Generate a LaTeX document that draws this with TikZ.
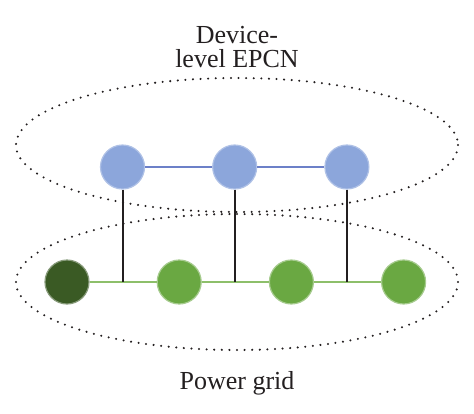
\documentclass[tikz,border=0pt]{standalone}
\usepackage{fontspec}
\setmainfont{Liberation Serif}
\usetikzlibrary{positioning}

\definecolor{devblue}{RGB}{140,166,219}
\definecolor{devline}{RGB}{108,128,200}
\definecolor{gridgreen}{RGB}{106,168,66}
\definecolor{griddark}{RGB}{58,90,36}
\definecolor{gridline}{RGB}{141,191,106}
\definecolor{txt}{RGB}{35,31,32}

\tikzset{
  bus/.style={circle, minimum size=44pt, inner sep=0pt, line width=1.2pt},
  devbus/.style={bus, fill=devblue, draw=devblue!70!white},
  gridbus/.style={bus, fill=gridgreen, draw=gridgreen!60!white},
  slackbus/.style={bus, fill=griddark, draw=griddark!60!white},
  layer/.style={line width=2.3pt, line cap=round, dash pattern=on 0pt off 7.6pt, txt},
  label/.style={font=\fontsize{26}{24}\selectfont, text=txt, align=center, anchor=base}
}

\begin{document}
\begin{tikzpicture}[x=1pt, y=-1pt, node distance=67pt]
        \useasboundingbox (0,0) rectangle (474,413);

        \node [slackbus] (g1) at (67,282) {};
        \node [gridbus, right=of g1] (g2) {};
        \node [gridbus, right=of g2] (g3) {};
        \node [gridbus, right=of g3] (g4) {};

        \node [devbus] (d1) at (122.5,167) {};
        \node [devbus, right=of d1] (d2) {};
        \node [devbus, right=of d2] (d3) {};

        \draw [layer] (237,145) ellipse [x radius=221, y radius=67];
        \draw [layer] (237,282) ellipse [x radius=221, y radius=68];

        \draw [gridline, line width=2.6pt] (g1) -- (g2) -- (g3) -- (g4);
        \draw [devline, line width=2.2pt] (d1) -- (d2) -- (d3);
        \draw [txt, line width=2pt] (d1) -- (d1 |- g1);
        \draw [txt, line width=2pt] (d2) -- (d2 |- g1);
        \draw [txt, line width=2pt] (d3) -- (d3 |- g1);

        \node [label] (devlabel) at (237,67) {Device-\\level EPCN};
        \node [label] (gridlabel) at (237,389) {Power grid};
\end{tikzpicture}
\end{document}
